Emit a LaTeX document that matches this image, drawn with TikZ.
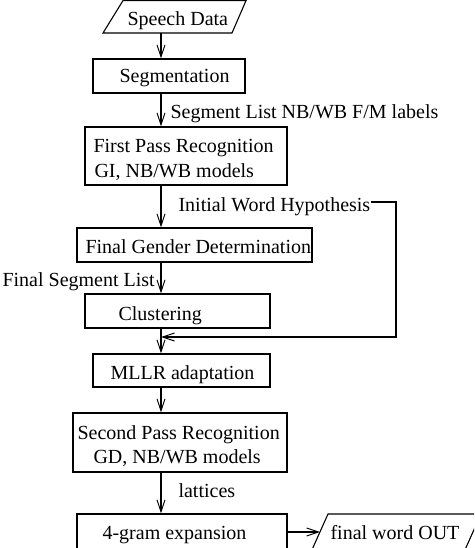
\documentclass[tikz,border=0pt]{standalone}
\usepackage{fontspec}
\setmainfont{Liberation Serif}
\usetikzlibrary{arrows.meta}
\begin{document}
\begin{tikzpicture}[x=1pt,y=-1pt,
  line width=1.1pt,
  txt/.style={anchor=base west,inner sep=0pt,font=\fontsize{20}{24}\selectfont},
  arr/.style={-{Straight Barb[length=12pt,width=8pt,line width=1pt]}}]
\useasboundingbox (0,0) rectangle (474,548);
\clip (0,0) rectangle (474,548);
\fill[white] (0,0) rectangle (474,548);
\coordinate (ax) at (161,0);
% Speech Data
\draw (103,33) -- (123,0.6) -- (246,0.6) -- (232,33) -- cycle;
\coordinate (sdb) at (161,33);
\node[txt] (sd) at (127,26) {Speech Data};
% boxes
\node[draw,inner sep=0pt,minimum width=152pt,minimum height=34pt] (seg) at (169,76) {};
\node[draw,inner sep=0pt,minimum width=202pt,minimum height=58pt] (fp) at (186,156) {};
\node[draw,inner sep=0pt,minimum width=235pt,minimum height=34pt] (fg) at (194.5,245) {};
\node[draw,inner sep=0pt,minimum width=185pt,minimum height=34pt] (cl) at (177.5,311) {};
\node[draw,inner sep=0pt,minimum width=177pt,minimum height=33pt] (ml) at (181.5,370.5) {};
\node[draw,inner sep=0pt,minimum width=214pt,minimum height=59pt] (sp) at (180,442.5) {};
\node[draw,inner sep=0pt,minimum width=210pt,minimum height=40pt] (ng) at (182,534) {};
% final word OUT
\draw (328,514) -- (481,514) -- (464,552) -- (311,552) -- cycle;
\coordinate (fwl) at (320.2,532);
% texts
\node[txt] (tseg) at (119,83) {Segmentation};
\node[txt] (tsl) at (170,119) {Segment List NB/WB F/M labels};
\node[txt] (tfp1) at (93,153) {First Pass Recognition};
\node[txt] (tfp2) at (94,178) {GI, NB/WB models};
\node[txt] (tiw) at (178,211) {Initial Word Hypothesis};
\node[txt] (tfg) at (85,253) {Final Gender Determination};
\node[txt] (tfs) at (2,286) {Final Segment List};
\node[txt] (tcl) at (118,320) {Clustering};
\node[txt] (tml) at (110,379) {MLLR adaptation};
\node[txt] (tsp1) at (77,439) {Second Pass Recognition};
\node[txt] (tsp2) at (93,463) {GD, NB/WB models};
\node[txt] (tlat) at (178,497) {lattices};
\node[txt] (tng) at (102,539) {4-gram expansion};
\node[txt] (tfw) at (330,539) {final word OUT};
% connectors
\draw[arr] (sdb) -- (seg.north -| ax);
\draw[arr] (seg.south -| ax) -- (fp.north -| ax);
\draw[arr] (fp.south -| ax) -- (fg.north -| ax);
\draw[arr] (fg.south -| ax) -- (cl.north -| ax);
\draw[arr] (cl.south -| ax) -- (ml.north -| ax);
\draw[arr] (ml.south -| ax) -- (sp.north -| ax);
\draw[arr] (sp.south -| ax) -- (ng.north -| ax);
\draw[arr] (ng.east |- fwl) -- (fwl);
\coordinate (fbs) at (tiw.east |- 0,202);
\draw[arr] (fbs) -- (396,202) -- (396,337) -- (ax |- 0,337);
\end{tikzpicture}
\end{document}
